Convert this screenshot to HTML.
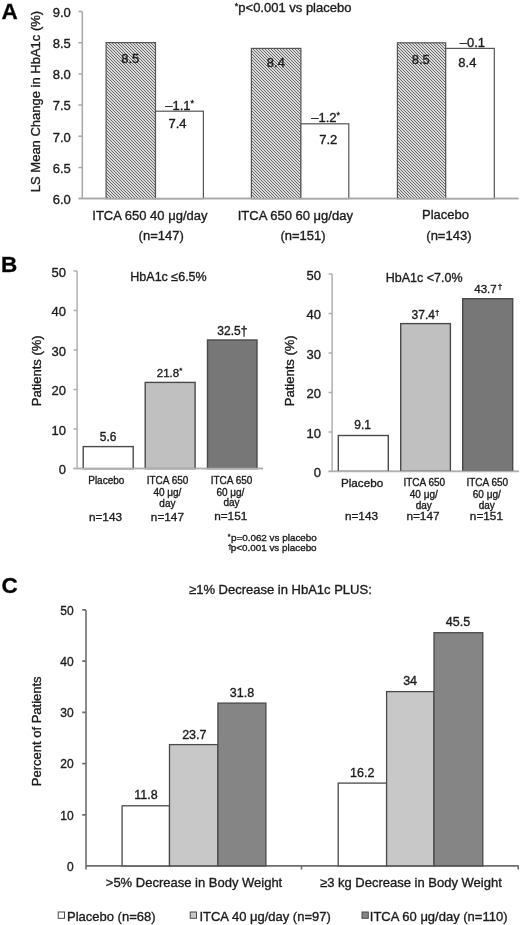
<!DOCTYPE html>
<html>
<head>
<meta charset="utf-8">
<style>
html,body{margin:0;padding:0;background:#fff;width:520px;height:925px;overflow:hidden}
svg{display:block}
text{font-family:"Liberation Sans",Arial,sans-serif;fill:#1c1c1c;stroke:#1c1c1c;stroke-width:0.35px}
.b{font-weight:bold;fill:#000}
</style>
</head>
<body>
<svg width="520" height="925" viewBox="0 0 520 925">
<defs>
<pattern id="hatch" patternUnits="userSpaceOnUse" width="3" height="3">
<rect width="3" height="3" fill="#dcdcdc"/>
<path d="M-1,-1 L4,4 M-1,2 L1,4 M2,-1 L4,1" stroke="#5a5a5a" stroke-width="0.9"/>
</pattern>
</defs>

<!-- ================= PANEL A ================= -->
<text class="b" x="1.6" y="18.7" font-size="22.5">A</text>
<text x="234.8" y="12.1" font-size="13"><tspan font-size="9" dy="-3">*</tspan><tspan dy="3">p&lt;0.001 vs placebo</tspan></text>

<g stroke="#a8a8a8" stroke-width="1.5" fill="none">
<path d="M82.3,11.5 V198.6 M78.5,198.6 H518.5"/>
<path d="M78.5,11.5 H82.3 M78.5,42.7 H82.3 M78.5,73.9 H82.3 M78.5,105.1 H82.3 M78.5,136.3 H82.3 M78.5,167.5 H82.3"/>
</g>
<g font-size="13" text-anchor="end">
<text x="70.8" y="16.8">9.0</text>
<text x="70.8" y="48.0">8.5</text>
<text x="70.8" y="79.2">8.0</text>
<text x="70.8" y="110.4">7.5</text>
<text x="70.8" y="141.6">7.0</text>
<text x="70.8" y="172.8">6.5</text>
<text x="70.8" y="204.0">6.0</text>
</g>
<text transform="translate(40.3,101.5) rotate(-90)" text-anchor="middle" font-size="13">LS Mean Change in HbA1c (%)</text>

<g stroke="#555" stroke-width="1.2">
<rect x="106.1" y="42.6" width="49.4" height="156" fill="url(#hatch)"/>
<rect x="155.5" y="111.2" width="47.9" height="87.4" fill="#fff"/>
<rect x="251.4" y="48.4" width="49.5" height="150.2" fill="url(#hatch)"/>
<rect x="300.9" y="123.8" width="47.9" height="74.8" fill="#fff"/>
<rect x="397.4" y="42.8" width="48.3" height="155.8" fill="url(#hatch)"/>
<rect x="445.7" y="48.4" width="48.6" height="150.2" fill="#fff"/>
</g>
<path d="M78.5,198.6 H518.5" stroke="#a8a8a8" stroke-width="1.5"/>
<g font-size="13" text-anchor="middle">
<text x="130.3" y="63.3">8.5</text>
<text x="177.5" y="128.3">7.4</text>
<text x="275.9" y="67.1">8.4</text>
<text x="328.3" y="143.5">7.2</text>
<text x="420.7" y="64.1">8.5</text>
<text x="467.4" y="67.4">8.4</text>
</g>
<g font-size="13">
<text x="165.2" y="109.9">–1.1<tspan font-size="9" dy="-4">*</tspan></text>
<text x="311.3" y="121.6">–1.2<tspan font-size="9" dy="-4">*</tspan></text>
<text x="459.8" y="46.9">–0.1</text>
</g>
<g font-size="13" text-anchor="middle">
<text x="149.9" y="220.2">ITCA 650 40 μg/day</text>
<text x="161.2" y="239.5">(n=147)</text>
<text x="295.3" y="220.2">ITCA 650 60 μg/day</text>
<text x="303" y="239.5">(n=151)</text>
<text x="445.5" y="219.4">Placebo</text>
<text x="448.9" y="239.5">(n=143)</text>
</g>

<!-- ================= PANEL B ================= -->
<text class="b" x="0.9" y="271.5" font-size="22.5">B</text>
<!-- left chart -->
<g stroke="#b0b0b0" stroke-width="1.5" fill="none">
<path d="M77.1,271 V468.6 M73.5,468.6 H263"/>
<path d="M73.5,271 H77.1 M73.5,310.5 H77.1 M73.5,350 H77.1 M73.5,389.5 H77.1 M73.5,429.1 H77.1"/>
</g>
<g font-size="13" text-anchor="end">
<text x="66" y="276.8">50</text>
<text x="66" y="316.3">40</text>
<text x="66" y="355.8">30</text>
<text x="66" y="395.3">20</text>
<text x="66" y="434.9">10</text>
<text x="66" y="474.2">0</text>
</g>
<text transform="translate(40.5,370.8) rotate(-90)" text-anchor="middle" font-size="13">Patients (%)</text>
<text x="168.5" y="281.2" font-size="12.5" text-anchor="middle">HbA1c ≤6.5%</text>
<g stroke="#4a4a4a" stroke-width="1.4">
<rect x="83.2" y="446.6" width="50" height="22" fill="#fff"/>
<rect x="145.2" y="382.4" width="49.9" height="86.2" fill="#c0c0c0"/>
<rect x="207.5" y="340" width="49.5" height="128.6" fill="#777"/>
</g>
<path d="M73.5,468.6 H263" stroke="#b0b0b0" stroke-width="1.5"/>
<g font-size="12" text-anchor="middle">
<text x="108.1" y="441">5.6</text>
<text x="169.5" y="376.8" font-size="11.5">21.8<tspan font-size="8" dy="-4">*</tspan></text>
<text x="232.3" y="334.5">32.5†</text>
</g>
<g font-size="10" text-anchor="middle">
<text x="106.3" y="484">Placebo</text>
<text x="167.6" y="484.1">ITCA 650</text>
<text x="167.4" y="495.7">40 μg/</text>
<text x="167.4" y="506.6">day</text>
<text x="231.5" y="484.1">ITCA 650</text>
<text x="230.4" y="495.6">60 μg/</text>
<text x="231.5" y="506.3">day</text>
</g>
<g font-size="11.8" text-anchor="middle">
<text x="105.5" y="520.6">n=143</text>
<text x="167.4" y="520.5">n=147</text>
<text x="230.7" y="520">n=151</text>
</g>
<g font-size="9.9">
<text x="227.7" y="540.8"><tspan font-size="7" dy="-2">*</tspan><tspan x="230.9" dy="2">p=0.062 vs placebo</tspan></text>
<text x="227.9" y="551.2"><tspan font-size="7" dy="-2.5">†</tspan><tspan x="230.7" dy="2.5">p&lt;0.001 vs placebo</tspan></text>
</g>

<!-- right chart -->
<g stroke="#b0b0b0" stroke-width="1.5" fill="none">
<path d="M332.1,274 V471.3 M328.6,471.3 H519"/>
<path d="M328.6,274 H332.1 M328.6,313.5 H332.1 M328.6,352.9 H332.1 M328.6,392.4 H332.1 M328.6,431.9 H332.1"/>
</g>
<g font-size="13" text-anchor="end">
<text x="321" y="279.6">50</text>
<text x="321" y="319.1">40</text>
<text x="321" y="358.5">30</text>
<text x="321" y="398">20</text>
<text x="321" y="437.5">10</text>
<text x="321" y="476.8">0</text>
</g>
<text transform="translate(293.8,370.8) rotate(-90)" text-anchor="middle" font-size="13">Patients (%)</text>
<text x="424.2" y="282.2" font-size="12.5" text-anchor="middle">HbA1c &lt;7.0%</text>
<g stroke="#4a4a4a" stroke-width="1.4">
<rect x="338.3" y="435.5" width="50" height="35.8" fill="#fff"/>
<rect x="400.7" y="323.6" width="49.7" height="147.7" fill="#c0c0c0"/>
<rect x="462.7" y="298.7" width="50" height="172.6" fill="#777"/>
</g>
<path d="M328.6,471.4 H519" stroke="#b0b0b0" stroke-width="1.5"/>
<g font-size="12" text-anchor="middle">
<text x="362.7" y="429.4">9.1</text>
<text x="425.5" y="318.5">37.4<tspan font-size="8" dy="-4">†</tspan></text>
<text x="474.3" y="292.8" font-size="11.5" text-anchor="start">43.7<tspan font-size="8" dx="1" dy="-3.5">†</tspan></text>
</g>
<g font-size="11.7" text-anchor="middle">
<text x="362.1" y="487.3">Placebo</text>
</g>
<g font-size="10" text-anchor="middle">
<text x="424.3" y="486.4">ITCA 650</text>
<text x="423.8" y="498.4">40 μg/</text>
<text x="423.8" y="509.3">day</text>
<text x="487.3" y="486.4">ITCA 650</text>
<text x="486.8" y="498.4">60 μg/</text>
<text x="486.8" y="509.3">day</text>
</g>
<g font-size="11.8" text-anchor="middle">
<text x="361.5" y="520.4">n=143</text>
<text x="423" y="520.3">n=147</text>
<text x="486.4" y="520.3">n=151</text>
</g>

<!-- ================= PANEL C ================= -->
<text class="b" x="1.5" y="593.4" font-size="22.5">C</text>
<text x="280.4" y="594.2" font-size="13" text-anchor="middle">≥1% Decrease in HbA1c PLUS:</text>
<g stroke="#6e6e6e" stroke-width="1.6" fill="none">
<path d="M86,609.9 V869.5 M86,865.9 H518.7"/>
<path d="M82.2,609.9 H86 M82.2,661.1 H86 M82.2,712.4 H86 M82.2,763.6 H86 M82.2,814.9 H86"/>
<path d="M301.5,865.9 V869.6 M518.2,865.9 V869.6"/>
</g>
<g font-size="12" text-anchor="end">
<text x="73.7" y="614.7">50</text>
<text x="73.7" y="665.9">40</text>
<text x="73.7" y="717.2">30</text>
<text x="73.7" y="768.4">20</text>
<text x="73.7" y="819.7">10</text>
<text x="73.7" y="870.9">0</text>
</g>
<text transform="translate(40.5,731.3) rotate(-90)" text-anchor="middle" font-size="13">Percent of Patients</text>
<g stroke="#4a4a4a" stroke-width="1.3">
<rect x="122.1" y="805.8" width="47.4" height="60.1" fill="#fff"/>
<rect x="169.5" y="744.6" width="48.4" height="121.3" fill="#c8c8c8"/>
<rect x="217.9" y="703.1" width="48" height="162.8" fill="#858585"/>
<rect x="338.2" y="783.1" width="48.4" height="82.8" fill="#fff"/>
<rect x="386.6" y="691.6" width="47.4" height="174.3" fill="#c8c8c8"/>
<rect x="434" y="632.7" width="48.8" height="233.2" fill="#858585"/>
</g>
<g font-size="12.5" text-anchor="middle">
<text x="146" y="799">11.8</text>
<text x="194.3" y="738.6">23.7</text>
<text x="242" y="696.5">31.8</text>
<text x="362.2" y="776.9">16.2</text>
<text x="410.1" y="685.4">34</text>
<text x="458" y="626.3">45.5</text>
</g>
<g font-size="13">
<text x="105.8" y="887.2">&gt;5% Decrease in Body Weight</text>
<text x="320" y="887">≥3 kg Decrease in Body Weight</text>
</g>
<g stroke="#4a4a4a" stroke-width="1">
<rect x="58.2" y="912" width="6.3" height="6.3" fill="#fff"/>
<rect x="190.2" y="912" width="6.3" height="6.3" fill="#c8c8c8"/>
<rect x="362" y="912" width="6.3" height="6.3" fill="#858585"/>
</g>
<g font-size="13">
<text x="67" y="920.5">Placebo (n=68)</text>
<text x="199.4" y="920.5">ITCA 40 μg/day (n=97)</text>
<text x="369.8" y="920.5">ITCA 60 μg/day (n=110)</text>
</g>
</svg>
</body>
</html>
